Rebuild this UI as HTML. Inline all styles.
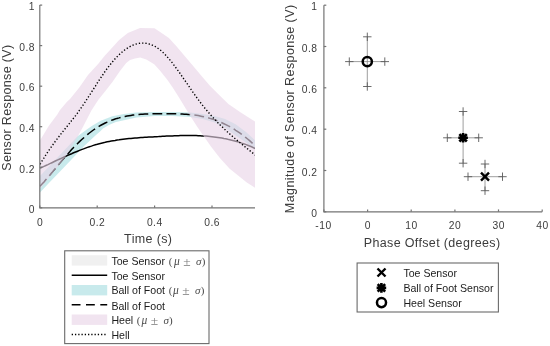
<!DOCTYPE html>
<html><head><meta charset="utf-8"><title>Sensor Response</title>
<style>html,body{margin:0;padding:0;background:#fff;overflow:hidden}svg{display:block}</style></head>
<body>
<svg width="550" height="346" viewBox="0 0 550 346" font-family="'Liberation Sans', Arial, sans-serif" fill="#3c3c3c">
<rect width="550" height="346" fill="#fff"/>
<clipPath id="c1"><rect x="39.8" y="5.1" width="215.2" height="202.70000000000002"/></clipPath>
<g clip-path="url(#c1)">
<path d="M40.0,176.0 L55.2,160.0 L66.0,148.5 L77.6,136.2 L86.8,129.5 L92.6,125.5 L100.7,120.8 L112.4,116.2 L124.0,113.9 L136.4,112.6 L154.5,111.9 L172.7,111.9 L190.4,112.5 L202.6,113.9 L214.7,116.0 L225.1,119.1 L235.6,124.3 L246.0,132.1 L255.5,140.8 L255.5,149.5 L246.0,142.5 L235.6,135.6 L225.1,127.8 L214.7,122.6 L202.6,119.1 L190.4,117.0 L172.7,116.1 L154.5,116.1 L136.4,117.4 L124.0,120.3 L115.9,122.0 L108.9,124.9 L103.0,128.6 L100.0,131.6 L94.9,136.0 L84.7,145.4 L71.5,159.5 L62.4,169.0 L48.7,183.3 L40.0,192.5Z" fill="#91d5d9" fill-opacity="0.5"/>
<path d="M40.0,168.2 L42.0,167.3 L44.0,166.4 L45.9,165.5 L47.9,164.6 L49.9,163.6 L51.9,162.7 L53.8,161.8 L55.8,160.8 L57.8,159.9 L59.8,159.0 L61.7,158.1 L63.7,157.2 L65.7,156.3 L67.7,155.4 L69.7,154.5 L71.6,153.7 L73.6,152.8 L75.6,152.0 L77.6,151.2 L79.5,150.4 L81.5,149.6 L83.5,148.9 L85.5,148.1 L87.4,147.4 L89.4,146.7 L91.4,146.1 L93.4,145.4 L95.4,144.8 L97.3,144.3 L99.3,143.7 L101.3,143.2 L103.3,142.7 L105.2,142.3 L107.2,141.8 L109.2,141.4 L111.2,141.0 L113.2,140.7 L115.1,140.4 L117.1,140.0 L119.1,139.8 L121.1,139.5 L123.0,139.2 L125.0,139.0 L127.0,138.8 L129.0,138.6 L130.9,138.4 L132.9,138.2 L134.9,138.0 L136.9,137.9 L138.9,137.7 L140.8,137.6 L142.8,137.5 L144.8,137.3 L146.8,137.2 L148.7,137.1 L150.7,137.0 L152.7,136.9 L154.7,136.8 L156.6,136.7 L158.6,136.6 L160.6,136.4 L162.6,136.3 L164.6,136.2 L166.5,136.1 L168.5,136.0 L170.5,135.9 L172.5,135.9 L174.4,135.8 L176.4,135.7 L178.4,135.7 L180.4,135.6 L182.3,135.6 L184.3,135.5 L186.3,135.5 L188.3,135.5 L190.3,135.5 L192.2,135.5 L194.2,135.6 L196.2,135.6 L198.2,135.7 L200.1,135.8 L202.1,135.9 L204.1,136.0 L206.1,136.1 L208.1,136.3 L210.0,136.5 L212.0,136.7 L214.0,136.9 L216.0,137.2 L217.9,137.5 L219.9,137.8 L221.9,138.1 L223.9,138.5 L225.8,138.8 L227.8,139.3 L229.8,139.7 L231.8,140.2 L233.8,140.7 L235.7,141.2 L237.7,141.8 L239.7,142.4 L241.7,143.1 L243.6,143.7 L245.6,144.4 L247.6,145.2 L249.6,146.0 L251.5,146.8 L253.5,147.7 L255.5,148.6" fill="none" stroke="#000" stroke-width="1.5"/>
<path d="M40.0,186.2 L42.0,184.1 L44.0,181.9 L45.9,179.6 L47.9,177.3 L49.9,175.0 L51.9,172.6 L53.8,170.2 L55.8,167.8 L57.8,165.5 L59.8,163.1 L61.7,160.7 L63.7,158.4 L65.7,156.2 L67.7,154.0 L69.7,151.8 L71.6,149.6 L73.6,147.5 L75.6,145.5 L77.6,143.5 L79.5,141.6 L81.5,139.8 L83.5,138.0 L85.5,136.2 L87.4,134.6 L89.4,133.0 L91.4,131.5 L93.4,130.0 L95.4,128.6 L97.3,127.4 L99.3,126.2 L101.3,125.0 L103.3,124.0 L105.2,123.0 L107.2,122.1 L109.2,121.2 L111.2,120.4 L113.2,119.7 L115.1,119.0 L117.1,118.4 L119.1,117.9 L121.1,117.3 L123.0,116.9 L125.0,116.5 L127.0,116.1 L129.0,115.7 L130.9,115.4 L132.9,115.1 L134.9,114.9 L136.9,114.7 L138.9,114.5 L140.8,114.3 L142.8,114.2 L144.8,114.1 L146.8,114.0 L148.7,113.9 L150.7,113.8 L152.7,113.8 L154.7,113.8 L156.6,113.7 L158.6,113.7 L160.6,113.7 L162.6,113.7 L164.6,113.7 L166.5,113.7 L168.5,113.7 L170.5,113.8 L172.5,113.8 L174.4,113.8 L176.4,113.8 L178.4,113.9 L180.4,114.0 L182.3,114.1 L184.3,114.2 L186.3,114.3 L188.3,114.4 L190.3,114.6 L192.2,114.8 L194.2,115.1 L196.2,115.3 L198.2,115.6 L200.1,116.0 L202.1,116.4 L204.1,116.8 L206.1,117.3 L208.1,117.8 L210.0,118.4 L212.0,119.0 L214.0,119.6 L216.0,120.3 L217.9,121.1 L219.9,121.9 L221.9,122.8 L223.9,123.7 L225.8,124.6 L227.8,125.7 L229.8,126.7 L231.8,127.9 L233.8,129.0 L235.7,130.3 L237.7,131.6 L239.7,132.9 L241.7,134.4 L243.6,135.8 L245.6,137.4 L247.6,139.0 L249.6,140.6 L251.5,142.4 L253.5,144.2 L255.5,146.0" fill="none" stroke="#000" stroke-width="1.5" stroke-dasharray="9.8,4.2"/>
<path d="M40.0,140.5 L48.7,126.0 L57.3,114.5 L60.0,110.0 L67.0,101.8 L70.0,99.0 L79.3,87.6 L88.0,75.0 L98.1,64.0 L104.5,56.0 L108.2,52.0 L119.1,40.0 L127.8,33.0 L140.0,28.0 L154.5,28.3 L162.7,33.8 L168.9,38.0 L176.2,46.0 L184.9,56.2 L193.6,66.4 L200.7,75.0 L209.5,85.2 L218.2,93.9 L228.4,104.1 L240.0,112.1 L249.4,118.0 L255.5,121.7 L255.5,188.0 L246.8,182.4 L229.4,168.5 L219.9,158.0 L211.3,147.0 L204.3,137.0 L197.4,127.0 L191.3,117.5 L186.0,109.0 L179.0,97.5 L173.0,88.0 L167.5,80.0 L160.3,71.0 L154.2,64.2 L146.3,59.6 L140.2,57.6 L135.0,58.5 L130.0,60.0 L126.2,63.0 L119.8,71.2 L112.6,81.8 L105.0,91.5 L98.4,99.7 L91.4,110.5 L83.7,125.5 L77.6,136.8 L70.5,148.5 L64.0,159.0 L59.5,164.5 L55.0,170.0 L40.0,189.0Z" fill="#e9d4e7" fill-opacity="0.62"/>
<path d="M40.0,164.3 L42.0,161.0 L44.0,157.9 L45.9,154.8 L47.9,151.8 L49.9,148.9 L51.9,146.1 L53.8,143.4 L55.8,140.7 L57.8,138.1 L59.8,135.5 L61.7,133.0 L63.7,130.5 L65.7,128.0 L67.7,125.6 L69.7,123.1 L71.6,120.6 L73.6,118.1 L75.6,115.6 L77.6,112.9 L79.5,110.2 L81.5,107.3 L83.5,104.4 L85.5,101.5 L87.4,98.4 L89.4,95.4 L91.4,92.3 L93.4,89.2 L95.4,86.1 L97.3,83.0 L99.3,80.0 L101.3,77.0 L103.3,74.1 L105.2,71.2 L107.2,68.5 L109.2,65.9 L111.2,63.4 L113.2,61.0 L115.1,58.8 L117.1,56.7 L119.1,54.7 L121.1,52.9 L123.0,51.3 L125.0,49.7 L127.0,48.4 L129.0,47.1 L130.9,46.1 L132.9,45.2 L134.9,44.4 L136.9,43.8 L138.9,43.4 L140.8,43.2 L142.8,43.1 L144.8,43.2 L146.8,43.4 L148.7,43.9 L150.7,44.5 L152.7,45.3 L154.7,46.2 L156.6,47.4 L158.6,48.8 L160.6,50.3 L162.6,52.1 L164.6,54.0 L166.5,56.0 L168.5,58.3 L170.5,60.6 L172.5,63.1 L174.4,65.7 L176.4,68.4 L178.4,71.1 L180.4,73.9 L182.3,76.8 L184.3,79.6 L186.3,82.5 L188.3,85.4 L190.3,88.3 L192.2,91.2 L194.2,94.0 L196.2,96.8 L198.2,99.5 L200.1,102.1 L202.1,104.7 L204.1,107.2 L206.1,109.6 L208.1,111.9 L210.0,114.2 L212.0,116.4 L214.0,118.6 L216.0,120.7 L217.9,122.7 L219.9,124.7 L221.9,126.6 L223.9,128.6 L225.8,130.4 L227.8,132.2 L229.8,134.0 L231.8,135.8 L233.8,137.5 L235.7,139.2 L237.7,140.9 L239.7,142.5 L241.7,144.1 L243.6,145.7 L245.6,147.3 L247.6,148.9 L249.6,150.5 L251.5,152.1 L253.5,153.6 L255.5,155.2" fill="none" stroke="#000" stroke-width="1.4" stroke-dasharray="1.3,2"/>
</g>
<path d="M39.8,5.1 V207.8 H255" fill="none" stroke="#747474" stroke-width="1.2"/>
<path d="M39.8,207.8 v-2.4" stroke="#747474" stroke-width="1.2"/>
<text x="40.0" y="225.5" font-size="10.3" letter-spacing="0.5" text-anchor="middle">0</text>
<path d="M97.2,207.8 v-2.4" stroke="#747474" stroke-width="1.2"/>
<text x="97.4" y="225.5" font-size="10.3" letter-spacing="0.5" text-anchor="middle">0.2</text>
<path d="M154.6,207.8 v-2.4" stroke="#747474" stroke-width="1.2"/>
<text x="154.8" y="225.5" font-size="10.3" letter-spacing="0.5" text-anchor="middle">0.4</text>
<path d="M212.0,207.8 v-2.4" stroke="#747474" stroke-width="1.2"/>
<text x="212.2" y="225.5" font-size="10.3" letter-spacing="0.5" text-anchor="middle">0.6</text>
<path d="M39.8,207.8 h2.4" stroke="#747474" stroke-width="1.2"/>
<text x="35.1" y="213.0" font-size="10.3" letter-spacing="0.5" text-anchor="end">0</text>
<path d="M39.8,167.3 h2.4" stroke="#747474" stroke-width="1.2"/>
<text x="35.1" y="172.5" font-size="10.3" letter-spacing="0.5" text-anchor="end">0.2</text>
<path d="M39.8,126.7 h2.4" stroke="#747474" stroke-width="1.2"/>
<text x="35.1" y="131.9" font-size="10.3" letter-spacing="0.5" text-anchor="end">0.4</text>
<path d="M39.8,86.2 h2.4" stroke="#747474" stroke-width="1.2"/>
<text x="35.1" y="91.4" font-size="10.3" letter-spacing="0.5" text-anchor="end">0.6</text>
<path d="M39.8,45.6 h2.4" stroke="#747474" stroke-width="1.2"/>
<text x="35.1" y="50.8" font-size="10.3" letter-spacing="0.5" text-anchor="end">0.8</text>
<path d="M39.8,5.1 h2.4" stroke="#747474" stroke-width="1.2"/>
<text x="35.1" y="10.3" font-size="10.3" letter-spacing="0.5" text-anchor="end">1</text>
<text x="148.2" y="243.4" font-size="12.5" letter-spacing="0.35" text-anchor="middle">Time (s)</text>
<text transform="translate(10.8,107.6) rotate(-90)" font-size="12.5" letter-spacing="0.35" text-anchor="middle">Sensor Response (V)</text>
<rect x="64.7" y="250.8" width="144.3" height="92.8" fill="#fff" stroke="#6a6a6a" stroke-width="1.1"/>
<rect x="71.7" y="255.2" width="35.5" height="10.4" fill="#f0f0f0"/>
<text x="111.4" y="265" font-size="10.6" fill="#1c1c1c">Toe Sensor <tspan font-family="'Liberation Serif', 'DejaVu Serif', serif" font-size="11" fill="#4a4a4a" dx="0.7">(</tspan></text>
<text x="174.0" y="265" font-family="'Liberation Serif', 'DejaVu Serif', serif" font-style="italic" font-size="11.5" fill="#4a4a4a">μ</text><text x="183.3" y="265.6" font-family="'Liberation Serif', 'DejaVu Serif', serif" font-size="13.5" fill="#7a7a7a">±</text><text x="196.0" y="265" font-family="'Liberation Serif', 'DejaVu Serif', serif" font-style="italic" font-size="11" fill="#4a4a4a">σ</text><text x="201.7" y="265" font-family="'Liberation Serif', 'DejaVu Serif', serif" font-size="11" fill="#4a4a4a">)</text>
<path d="M71.7,275.2 H107.2" stroke="#000" stroke-width="1.6"/>
<text x="111.4" y="279.6" font-size="10.6" fill="#1c1c1c">Toe Sensor</text>
<rect x="71.7" y="285.0" width="35.5" height="10.4" fill="#c8eaec"/>
<text x="111.4" y="294.1" font-size="10.6" fill="#1c1c1c">Ball of Foot <tspan font-family="'Liberation Serif', 'DejaVu Serif', serif" font-size="11" fill="#4a4a4a" dx="0.7">(</tspan></text>
<text x="173.0" y="294.1" font-family="'Liberation Serif', 'DejaVu Serif', serif" font-style="italic" font-size="11.5" fill="#4a4a4a">μ</text><text x="182.3" y="294.70000000000005" font-family="'Liberation Serif', 'DejaVu Serif', serif" font-size="13.5" fill="#7a7a7a">±</text><text x="195.0" y="294.1" font-family="'Liberation Serif', 'DejaVu Serif', serif" font-style="italic" font-size="11" fill="#4a4a4a">σ</text><text x="200.7" y="294.1" font-family="'Liberation Serif', 'DejaVu Serif', serif" font-size="11" fill="#4a4a4a">)</text>
<path d="M71.7,304.7 H107.2" stroke="#000" stroke-width="1.5" stroke-dasharray="8.8,5.5"/>
<text x="111.4" y="309.5" font-size="10.6" fill="#1c1c1c">Ball of Foot</text>
<rect x="71.7" y="314.5" width="35.5" height="10.4" fill="#f1e4f0"/>
<text x="111.4" y="324.3" font-size="10.6" fill="#1c1c1c">Heel <tspan font-family="'Liberation Serif', 'DejaVu Serif', serif" font-size="11" fill="#4a4a4a" dx="0.7">(</tspan></text>
<text x="141.4" y="324.3" font-family="'Liberation Serif', 'DejaVu Serif', serif" font-style="italic" font-size="11.5" fill="#4a4a4a">μ</text><text x="150.70000000000002" y="324.90000000000003" font-family="'Liberation Serif', 'DejaVu Serif', serif" font-size="13.5" fill="#7a7a7a">±</text><text x="163.4" y="324.3" font-family="'Liberation Serif', 'DejaVu Serif', serif" font-style="italic" font-size="11" fill="#4a4a4a">σ</text><text x="169.10000000000002" y="324.3" font-family="'Liberation Serif', 'DejaVu Serif', serif" font-size="11" fill="#4a4a4a">)</text>
<path d="M71.7,334.5 H107.2" stroke="#000" stroke-width="1.3" stroke-dasharray="1.3,1.96"/>
<text x="111.4" y="338.7" font-size="10.6" fill="#1c1c1c">Hell</text>
<path d="M323.9,5.2 V211.8 H542.2" fill="none" stroke="#747474" stroke-width="1.2"/>
<path d="M323.9,211.8 v-2.4" stroke="#747474" stroke-width="1.2"/>
<text x="323.5" y="229.2" font-size="10.3" letter-spacing="0.5" text-anchor="middle">-10</text>
<path d="M367.6,211.8 v-2.4" stroke="#747474" stroke-width="1.2"/>
<text x="367.8" y="229.2" font-size="10.3" letter-spacing="0.5" text-anchor="middle">0</text>
<path d="M411.2,211.8 v-2.4" stroke="#747474" stroke-width="1.2"/>
<text x="411.5" y="229.2" font-size="10.3" letter-spacing="0.5" text-anchor="middle">10</text>
<path d="M454.9,211.8 v-2.4" stroke="#747474" stroke-width="1.2"/>
<text x="455.1" y="229.2" font-size="10.3" letter-spacing="0.5" text-anchor="middle">20</text>
<path d="M498.5,211.8 v-2.4" stroke="#747474" stroke-width="1.2"/>
<text x="498.8" y="229.2" font-size="10.3" letter-spacing="0.5" text-anchor="middle">30</text>
<path d="M542.2,211.8 v-2.4" stroke="#747474" stroke-width="1.2"/>
<text x="542.5" y="229.2" font-size="10.3" letter-spacing="0.5" text-anchor="middle">40</text>
<path d="M323.9,211.8 h2.4" stroke="#747474" stroke-width="1.2"/>
<text x="317.5" y="217.0" font-size="10.3" letter-spacing="0.5" text-anchor="end">0</text>
<path d="M323.9,170.5 h2.4" stroke="#747474" stroke-width="1.2"/>
<text x="317.5" y="175.7" font-size="10.3" letter-spacing="0.5" text-anchor="end">0.2</text>
<path d="M323.9,129.2 h2.4" stroke="#747474" stroke-width="1.2"/>
<text x="317.5" y="134.4" font-size="10.3" letter-spacing="0.5" text-anchor="end">0.4</text>
<path d="M323.9,87.8 h2.4" stroke="#747474" stroke-width="1.2"/>
<text x="317.5" y="93.0" font-size="10.3" letter-spacing="0.5" text-anchor="end">0.6</text>
<path d="M323.9,46.5 h2.4" stroke="#747474" stroke-width="1.2"/>
<text x="317.5" y="51.7" font-size="10.3" letter-spacing="0.5" text-anchor="end">0.8</text>
<path d="M323.9,5.2 h2.4" stroke="#747474" stroke-width="1.2"/>
<text x="317.5" y="10.4" font-size="10.3" letter-spacing="0.5" text-anchor="end">1</text>
<text x="432.1" y="247" font-size="12.5" letter-spacing="0.35" text-anchor="middle">Phase Offset (degrees)</text>
<text transform="translate(294.4,108.8) rotate(-90)" font-size="12.5" letter-spacing="0.42" text-anchor="middle">Magnitude of Sensor Response (V)</text>
<path d="M349.3,61.6 H384.8 M367.3,36.8 V86.5" fill="none" stroke="#858585" stroke-width="0.8"/><path d="M345.1,61.6 h8.4 M349.3,57.4 v8.4 M380.6,61.6 h8.4 M384.8,57.4 v8.4 M363.1,36.8 h8.4 M367.3,32.599999999999994 v8.4 M363.1,86.5 h8.4 M367.3,82.3 v8.4" fill="none" stroke="#5a5a5a" stroke-width="0.9"/>
<circle cx="367.3" cy="61.6" r="4.6" fill="none" stroke="#000" stroke-width="2.5"/>
<path d="M447.3,137.8 H478.7 M463.1,111.5 V163.2" fill="none" stroke="#858585" stroke-width="0.8"/><path d="M443.1,137.8 h8.4 M447.3,133.60000000000002 v8.4 M474.5,137.8 h8.4 M478.7,133.60000000000002 v8.4 M458.90000000000003,111.5 h8.4 M463.1,107.3 v8.4 M458.90000000000003,163.2 h8.4 M463.1,159.0 v8.4" fill="none" stroke="#5a5a5a" stroke-width="0.9"/>
<path d="M458.3,137.8 h9.6 M463.1,133.0 v9.6 M459.36,134.06 L466.84,141.54 M459.36,141.54 L466.84,134.06" stroke="#000" stroke-width="2.6" fill="none"/>
<path d="M468,176.7 H502.5 M485,164 V190.7" fill="none" stroke="#858585" stroke-width="0.8"/><path d="M463.8,176.7 h8.4 M468,172.5 v8.4 M498.3,176.7 h8.4 M502.5,172.5 v8.4 M480.8,164 h8.4 M485,159.8 v8.4 M480.8,190.7 h8.4 M485,186.5 v8.4" fill="none" stroke="#5a5a5a" stroke-width="0.9"/>
<path d="M481.0,172.7 L489.0,180.7 M481.0,180.7 L489.0,172.7" stroke="#000" stroke-width="2.4" fill="none"/>
<rect x="357.1" y="263" width="141.3" height="49" fill="#fff" stroke="#6a6a6a" stroke-width="1.1"/>
<path d="M377.5,268.5 L385.5,276.5 M377.5,276.5 L385.5,268.5" stroke="#000" stroke-width="2.4" fill="none"/>
<path d="M376.59999999999997,287.9 h9.6 M381.4,283.09999999999997 v9.6 M377.66,284.16 L385.14,291.64 M377.66,291.64 L385.14,284.16" stroke="#000" stroke-width="2.6" fill="none"/>
<circle cx="381.5" cy="302.6" r="4.55" fill="none" stroke="#000" stroke-width="2.5"/>
<text x="403.4" y="277.4" font-size="10.6" fill="#1c1c1c">Toe Sensor</text>
<text x="403.4" y="292" font-size="10.6" fill="#1c1c1c">Ball of Foot Sensor</text>
<text x="403.4" y="306.9" font-size="10.6" fill="#1c1c1c">Heel Sensor</text>
</svg>
</body></html>
